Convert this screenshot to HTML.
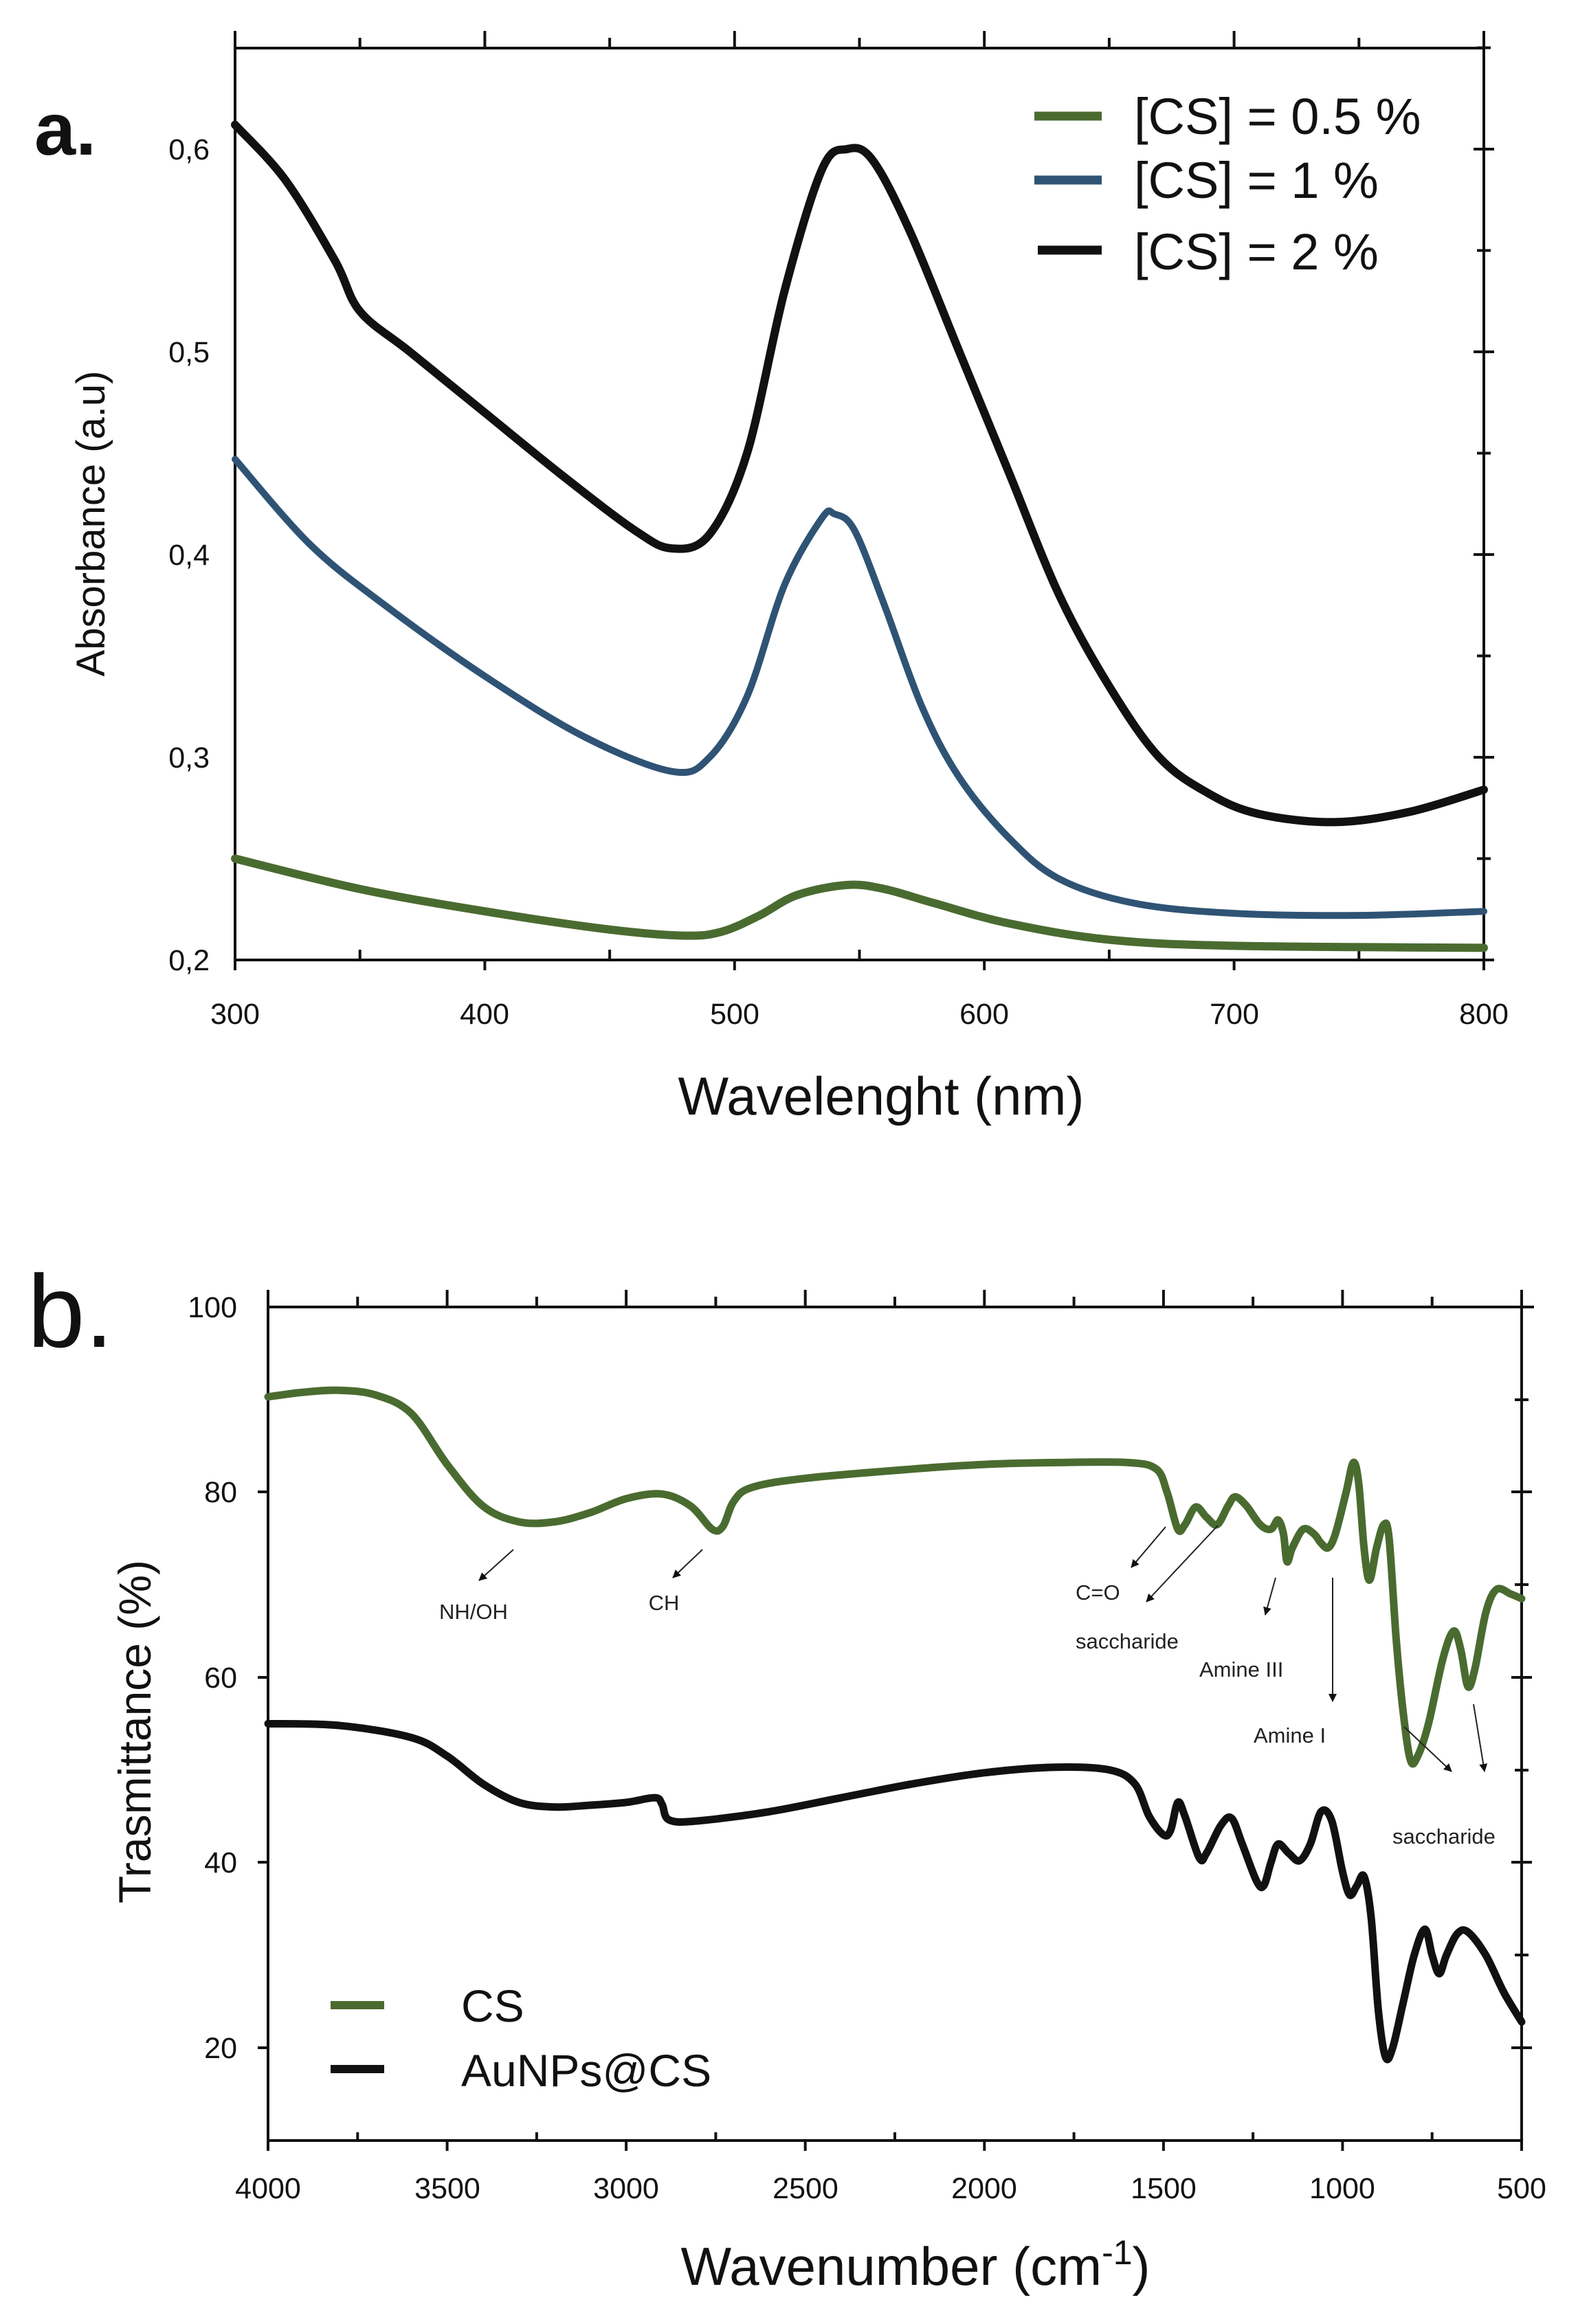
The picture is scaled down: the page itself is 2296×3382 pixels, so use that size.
<!DOCTYPE html>
<html><head><meta charset="utf-8"><style>
html,body{margin:0;padding:0;background:#fff}
svg{display:block}
text{font-family:"Liberation Sans",Arial,sans-serif;fill:#111}
.lab{font-family:"Liberation Sans",Arial,sans-serif;font-size:31px;fill:#222}
</style></head><body>
<svg width="2296" height="3382" viewBox="0 0 2296 3382" xmlns="http://www.w3.org/2000/svg" font-family="Liberation Sans, Arial, sans-serif">
<defs><marker id="ar" markerWidth="12" markerHeight="12" refX="11" refY="6" orient="auto" markerUnits="userSpaceOnUse" viewBox="0 0 12 12"><path d="M0,0 L12,6 L0,12 z" fill="#111"/></marker></defs>
<!-- Panel a -->
<text x="50" y="225" font-size="108" font-weight="bold">a.</text>
<g stroke="#111" stroke-width="4" fill="none">
<rect x="342" y="70" width="1817" height="1327"/>
<path d="M342,70v-25M523.7,70v-15M705.4,70v-25M887.1,70v-15M1068.8,70v-25M1250.5,70v-15M1432.2,70v-25M1613.9,70v-15M1795.6,70v-25M1977.3,70v-15M2159,70v-25"/>
<path d="M342,1397v15M523.7,1397v-15M705.4,1397v15M887.1,1397v-15M1068.8,1397v15M1250.5,1397v-15M1432.2,1397v15M1613.9,1397v-15M1795.6,1397v15M1977.3,1397v-15M2159,1397v15"/>
<path d="M2144,1397h30M2149,1249.5h20M2144,1102h30M2149,954.5h20M2144,807h30M2149,659.5h20M2144,512h30M2149,364.5h20M2144,217h30M2149,69.5h20"/>
</g>
<g font-size="43" text-anchor="end">
<text x="305" y="1412">0,2</text><text x="305" y="1117">0,3</text><text x="305" y="822">0,4</text><text x="305" y="527">0,5</text><text x="305" y="232">0,6</text>
</g>
<g font-size="43" text-anchor="middle">
<text x="342" y="1490">300</text><text x="705" y="1490">400</text><text x="1069" y="1490">500</text><text x="1432" y="1490">600</text><text x="1796" y="1490">700</text><text x="2159" y="1490">800</text>
</g>
<text x="1282" y="1622" font-size="78" text-anchor="middle">Wavelenght (nm)</text>
<text transform="translate(152,762) rotate(-90)" font-size="58" text-anchor="middle">Absorbance (a.u)</text>
<g transform="translate(342,1397) scale(3.634,-2.95) translate(-300,-200)" fill="none" stroke-linejoin="round" stroke-linecap="round">
<polyline class="sm" vector-effect="non-scaling-stroke" stroke="#111" stroke-width="12" points="300,612 320,585 340,545 350,520 370,500 400,470 430,440 460,412 475,403 490,410 505,450 520,530 535,590 545,600 555,595 570,560 590,500 610,440 630,380 650,335 670,300 690,282 710,272 740,268 770,273 800,284"/>
<polyline class="sm" vector-effect="non-scaling-stroke" stroke="#2f5374" stroke-width="10" points="300,447 330,405 360,375 400,340 440,310 475,293 490,300 505,330 520,385 535,418 540,420 548,412 560,375 575,325 590,290 610,260 630,240 660,228 700,223 750,222 800,224"/>
<polyline class="sm" vector-effect="non-scaling-stroke" stroke="#4a6b30" stroke-width="12" points="300,250 350,235 400,224 450,215 480,212 495,214 510,222 525,232 545,237 560,235 580,228 610,218 650,210 700,207 800,206"/>
</g>
<g stroke-width="13">
<line x1="1505" y1="169" x2="1603" y2="169" stroke="#4a6b30"/>
<line x1="1505" y1="262" x2="1603" y2="262" stroke="#2f5374"/>
<line x1="1510" y1="364" x2="1603" y2="364" stroke="#111"/>
</g>
<g font-size="74"><text x="1650" y="195">[CS] = 0.5 %</text><text x="1650" y="288">[CS] = 1 %</text><text x="1650" y="392">[CS] = 2 %</text></g>

<!-- Panel b -->
<text x="40" y="1960" font-size="150">b.</text>
<g stroke="#111" stroke-width="4" fill="none">
<path d="M390,1902H2232M390,1880V3115H2214V1902"/>
<path d="M390,1902v-25M520.3,1902v-15M650.6,1902v-25M780.9,1902v-15M911.1,1902v-25M1041.4,1902v-15M1171.7,1902v-25M1302,1902v-15M1432.3,1902v-25M1562.6,1902v-15M1692.9,1902v-25M1823.1,1902v-15M1953.4,1902v-25M2083.7,1902v-15M2214,1902v-25"/>
<path d="M390,3115v15M520.3,3115v-12M650.6,3115v15M780.9,3115v-12M911.1,3115v15M1041.4,3115v-12M1171.7,3115v15M1302,3115v-12M1432.3,3115v15M1562.6,3115v-12M1692.9,3115v15M1823.1,3115v-12M1953.4,3115v15M2083.7,3115v-12M2214,3115v15"/>
<path d="M2199,1902h30M2204,2037h20M2199,2171h30M2204,2306h20M2199,2441h30M2204,2576h20M2199,2710h30M2204,2845h20M2199,2980h30"/>
<path d="M390,2171h-15M390,2441h-15M390,2710h-15M390,2980h-15"/>
</g>
<g font-size="43" text-anchor="end">
<text x="345" y="1917">100</text><text x="345" y="2186">80</text><text x="345" y="2456">60</text><text x="345" y="2725">40</text><text x="345" y="2995">20</text>
</g>
<g font-size="43" text-anchor="middle">
<text x="390" y="3199">4000</text><text x="651" y="3199">3500</text><text x="911" y="3199">3000</text><text x="1172" y="3199">2500</text><text x="1432" y="3199">2000</text><text x="1693" y="3199">1500</text><text x="1953" y="3199">1000</text><text x="2214" y="3199">500</text>
</g>
<text x="1332" y="3325" font-size="78" text-anchor="middle">Wavenumber (cm<tspan font-size="50" dy="-30">-1</tspan><tspan dy="30">)</tspan></text>
<text transform="translate(219,2520) rotate(-90)" font-size="66" text-anchor="middle">Trasmittance (%)</text>
<g transform="translate(390,1902) scale(-0.52114,-13.475) translate(-4000,-100)" fill="none" stroke-linejoin="round" stroke-linecap="round">
<polyline class="sm" vector-effect="non-scaling-stroke" stroke="#4a6b30" stroke-width="11" points="4000,90.3 3900,90.8 3800,91 3700,90.5 3600,88.5 3500,83 3400,78.5 3300,76.8 3200,76.8 3100,77.8 3000,79.3 2900,79.8 2820,78.5 2760,76 2730,76.3 2700,79 2650,80.5 2500,81.5 2200,82.5 2000,83 1800,83.2 1600,83.2 1520,82.5 1490,80 1460,76 1440,76.5 1410,78.4 1380,77.3 1350,76.5 1320,78.5 1300,79.5 1270,78.6 1230,76.5 1200,76 1180,77 1165,75.5 1155,72.5 1140,74 1110,76 1080,75.5 1060,74.5 1040,74 1020,75.5 990,80 970,83.2 955,81 940,74 925,70.5 905,74 885,76.5 870,75 850,64 830,56 810,51 790,51.5 760,55 720,62 690,65 670,63 650,59 630,61 600,67 570,69.5 530,69 500,68.5"/>
<polyline class="sm" vector-effect="non-scaling-stroke" stroke="#111" stroke-width="11" points="4000,55 3800,54.8 3600,53.5 3500,51.5 3400,48.5 3300,46.5 3200,46 3100,46.2 3000,46.5 2920,47 2900,46.3 2880,44.6 2800,44.5 2600,45.5 2400,47 2200,48.5 2000,49.7 1800,50.3 1650,50 1580,48.5 1540,45 1500,43 1480,43.5 1460,46.5 1440,45 1400,40.5 1380,41 1340,44 1310,44.8 1280,42 1240,38 1220,37.5 1200,40 1180,42 1150,41 1120,40.2 1090,42 1060,45.5 1030,44.5 1000,39 980,36.5 960,37.5 940,38.5 920,34 900,24 880,19 860,20 830,25 800,30 770,32.8 750,30 730,28 710,30 680,32.3 650,32.5 600,30 550,26 500,22.8"/>
</g>
<g stroke="#222" stroke-width="2" marker-end="url(#ar)">
<line x1="747" y1="2255" x2="697" y2="2300"/>
<line x1="1022" y1="2255" x2="979" y2="2296"/>
<line x1="1696" y1="2222" x2="1646" y2="2281"/>
<line x1="1772" y1="2220" x2="1668" y2="2331"/>
<line x1="1856" y1="2296" x2="1841" y2="2350"/>
<line x1="1939" y1="2296" x2="1939" y2="2476"/>
<line x1="2043" y1="2513" x2="2112" y2="2578"/>
<line x1="2144" y1="2480" x2="2160" y2="2578"/>
</g>
<g>
<text x="689" y="2356" text-anchor="middle" class="lab">NH/OH</text>
<text x="966" y="2343" text-anchor="middle" class="lab">CH</text>
<text x="1565" y="2328" class="lab">C=O</text>
<text x="1565" y="2399" class="lab">saccharide</text>
<text x="1745" y="2440" class="lab">Amine III</text>
<text x="1824" y="2536" class="lab">Amine I</text>
<text x="2026" y="2683" class="lab">saccharide</text>
</g>
<g stroke-width="12">
<line x1="481" y1="2918" x2="559" y2="2918" stroke="#4a6b30"/>
<line x1="481" y1="3011" x2="559" y2="3011" stroke="#111"/>
</g>
<g font-size="66"><text x="671" y="2942">CS</text><text x="671" y="3036">AuNPs@CS</text></g>
</svg>
<script>
(function(){
var ns="http://www.w3.org/2000/svg";
document.querySelectorAll("polyline.sm").forEach(function(pl){
 var pts=pl.getAttribute("points").trim().split(/\s+/).map(function(s){return s.split(",").map(Number);});
 var d="M"+pts[0][0]+","+pts[0][1];
 for(var i=0;i<pts.length-1;i++){
  var p0=pts[i-1]||pts[i],p1=pts[i],p2=pts[i+1],p3=pts[i+2]||p2;
  var c1=[p1[0]+(p2[0]-p0[0])/6,p1[1]+(p2[1]-p0[1])/6];
  var c2=[p2[0]-(p3[0]-p1[0])/6,p2[1]-(p3[1]-p1[1])/6];
  d+=" C"+c1[0]+","+c1[1]+" "+c2[0]+","+c2[1]+" "+p2[0]+","+p2[1];
 }
 var p=document.createElementNS(ns,"path");
 ["vector-effect","stroke","stroke-width"].forEach(function(a){p.setAttribute(a,pl.getAttribute(a));});
 p.setAttribute("d",d);
 pl.parentNode.replaceChild(p,pl);
});
})();
</script>
</body></html>
